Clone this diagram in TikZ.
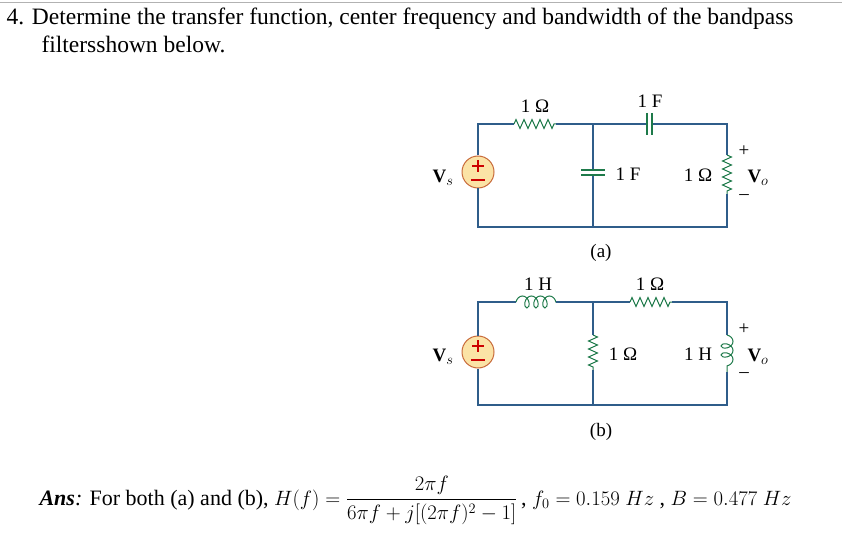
\documentclass[tikz,border=0pt]{standalone}
\usepackage{fontspec}
\setmainfont{Liberation Serif}
\usepackage{amsmath}
\usetikzlibrary{decorations.pathmorphing,calc,positioning}
\definecolor{wirec}{HTML}{2F5D8A}
\definecolor{partc}{HTML}{1E7A4A}
\definecolor{srcfill}{HTML}{FBE3A6}
\definecolor{srcdraw}{HTML}{C86A3A}
\tikzset{
  wire/.style={draw=wirec, line width=1.6pt},
  res/.style={draw=partc, line width=1pt, decorate, decoration={zigzag, segment length=8pt, amplitude=4.5pt}},
  ind/.style={draw=partc, line width=1pt, decorate, decoration={coil, aspect=0.7, segment length=9pt, amplitude=6pt}},
  plate/.style={draw=partc, line width=2.5pt},
  src/.style={circle, draw=srcdraw, fill=srcfill, line width=1pt, minimum size=32pt, inner sep=0pt},
  sgn/.style={draw=red!80!black, line width=1.4pt},
  lbl/.style={font=\fontsize{19}{19}\selectfont, inner sep=1pt},
}
\begin{document}
\begin{tikzpicture}[x=1pt,y=-1pt]
\useasboundingbox (0,0) rectangle (842,534);
\draw[gray!60, line width=0.6pt] (0,2) -- (842,2);
\node[anchor=base west, font=\fontsize{23.5}{26}\selectfont, align=left] (title) at (3,25) {4. Determine the transfer function, center frequency and bandwidth of the bandpass};
\node[anchor=base west, font=\fontsize{23.5}{26}\selectfont] (title2) at (38,53) {filtersshown below.};

% circuit (a)
\coordinate (atl) at (478,124); \coordinate (atm) at (593,124); \coordinate (atr) at (727,124);
\coordinate (abl) at (478,227); \coordinate (abm) at (593,227); \coordinate (abr) at (727,227);
\node[src] (vsa) at (478,172) {};
\draw[wire] (vsa) -- (atl) -- (514,124);
\draw[res] (514,124) -- (556,124);
\draw[wire] (556,124) -- (atm) -- (647,124);
\draw[wire] (652,124) -- (atr) -- (727,155);
\draw[plate] (647,113) -- (647,135); \draw[plate] (652,113) -- (652,135);
\draw[res] (727,155) -- (727,194);
\draw[wire] (727,194) -- (abr) -- (abl) -- (vsa);
\draw[wire] (atm) -- (593,170); \draw[wire] (593,175) -- (abm);
\draw[plate] (581,170) -- (605,170); \draw[plate] (581,175) -- (605,175);
\node[lbl] at (535,106) {1 Ω};
\node[lbl] at (650,101) {1 F};
\node[lbl] at (628,174) {1 F};
\node[lbl] at (698,175) {1 Ω};
\node[lbl] at (758,178) {$\mathbf{V}_{o}$};
\node[lbl] at (744,151) {+};
\node[lbl] at (744,197) {--};
\node[lbl] at (443,178) {$\mathbf{V}_{s}$};
\draw[sgn] (472,166) -- (484,166) (478,160) -- (478,172);
\draw[sgn] (471,180) -- (485,180);
\node[lbl] (capa) at (601,253) {(a)};

% circuit (b)
\coordinate (btl) at (478,302); \coordinate (btm) at (593,302); \coordinate (btr) at (727,302);
\coordinate (bbl) at (478,405); \coordinate (bbm) at (593,405); \coordinate (bbr) at (727,405);
\node[src] (vsb) at (478,352) {};
\draw[wire] (vsb) -- (btl) -- (516,302);
\draw[ind] (516,302) -- (556,302);
\draw[wire] (556,302) -- (btm) -- (630,302);
\draw[res] (630,302) -- (672,302);
\draw[wire] (672,302) -- (btr) -- (727,335);
\draw[ind] (727,335) -- (727,372);
\draw[wire] (727,372) -- (bbr) -- (bbl) -- (vsb);
\draw[wire] (btm) -- (593,335); \draw[wire] (593,370) -- (bbm);
\draw[res] (593,335) -- (593,370);
\node[lbl] at (538,284) {1 H};
\node[lbl] at (650,284) {1 Ω};
\node[lbl] at (623,354) {1 Ω};
\node[lbl] at (698,354) {1 H};
\node[lbl] at (758,357) {$\mathbf{V}_{o}$};
\node[lbl] at (744,329) {+};
\node[lbl] at (744,375) {--};
\node[lbl] at (443,357) {$\mathbf{V}_{s}$};
\draw[sgn] (472,346) -- (484,346) (478,340) -- (478,352);
\draw[sgn] (471,360) -- (485,360);
\node[lbl] (capb) at (601,432) {(b)};

% answer
\node[anchor=base west, font=\fontsize{22}{24}\selectfont] (ans) at (36,505)
  {\textit{\textbf{Ans}:} For both (a) and (b), $H(f)=\dfrac{2\pi f}{6\pi f+j[(2\pi f)^2-1]}$\,, $f_0=0.159\ Hz$ , $B=0.477\ Hz$};
\end{tikzpicture}
\end{document}
